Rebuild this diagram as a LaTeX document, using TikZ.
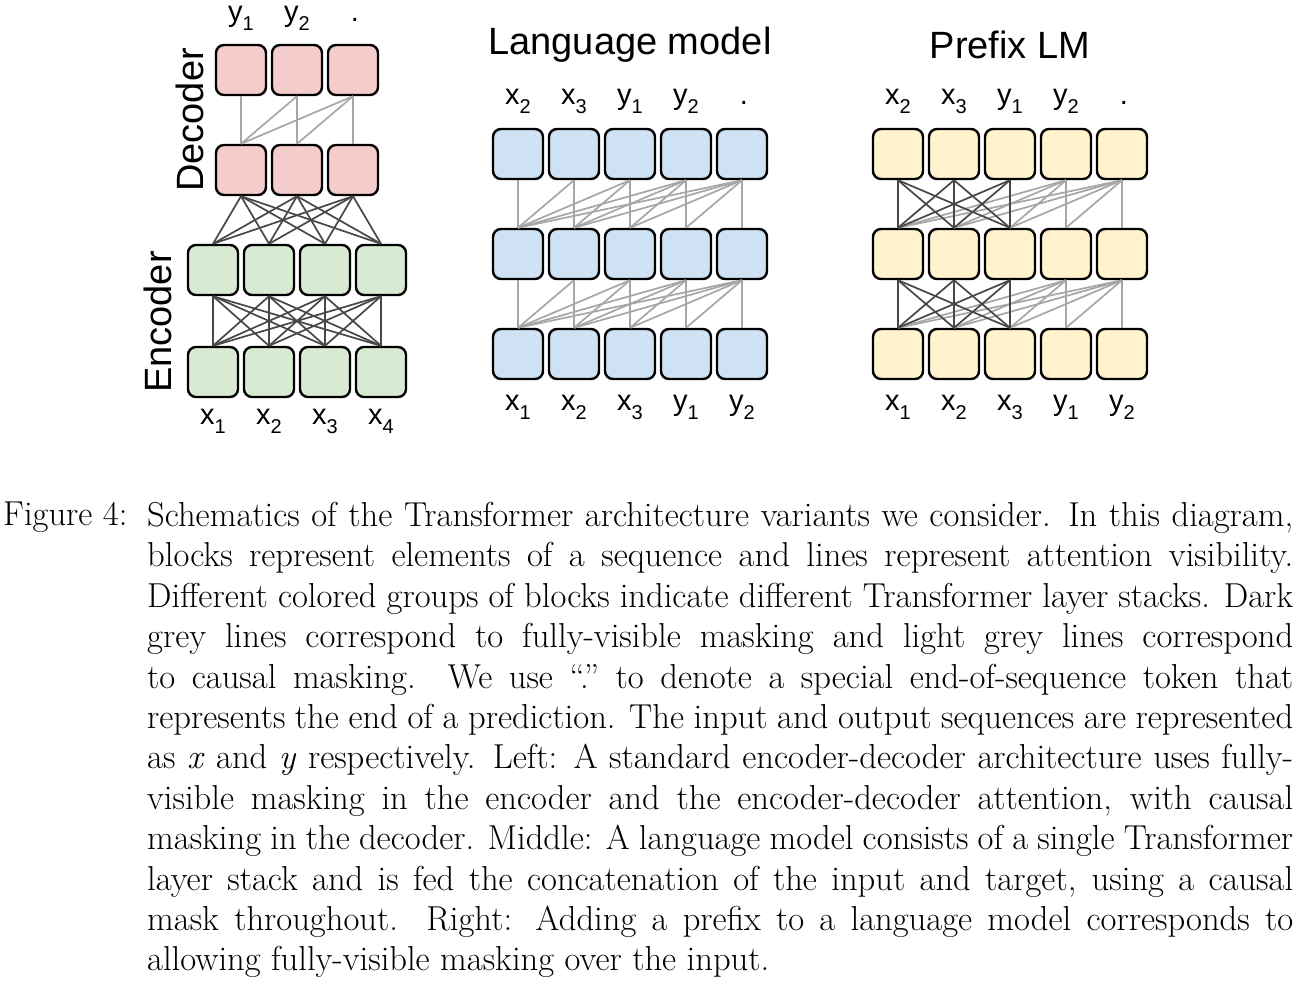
\documentclass[tikz,border=0pt]{standalone}
\usepackage{fontspec}
\newfontfamily\lab{Liberation Sans}
\newcommand{\tk}[2]{#1\raisebox{-9pt}{\fontsize{20}{20}\selectfont #2}}
\begin{document}
\begin{tikzpicture}[x=1pt,y=-1pt,
  blk/.style={draw=black,line width=2.4pt,rounded corners=8pt,minimum width=50pt,minimum height=50pt,inner sep=0pt},
  dk/.style={draw=black!72,line width=1.7pt},
  lt/.style={draw=black!35,line width=1.7pt},
  tok/.style={font=\lab\fontsize{29}{30}\selectfont,inner sep=0pt,anchor=base},
  ttl/.style={font=\lab\fontsize{38}{40}\selectfont,inner sep=0pt},
  captxt/.style={font=\fontsize{34.6}{40.4}\selectfont,inner sep=0pt,anchor=north west}]
\useasboundingbox (0,0) rectangle (1295,982);
\definecolor{cpink}{HTML}{F4CCCC}\definecolor{cgreen}{HTML}{D9EAD3}
\definecolor{cblue}{HTML}{CFE2F3}\definecolor{cyel}{HTML}{FFF2CC}
% Left: encoder-decoder
\foreach \i/\x in {1/213,2/269,3/325,4/381}{
  \node[blk,fill=cgreen] (eb\i) at (\x,372) {};
  \node[blk,fill=cgreen] (et\i) at (\x,270) {};
  \node[tok] at (\x,424) {\tk{x}{\i}};}
\foreach \i/\x in {1/241,2/297,3/353}{
  \node[blk,fill=cpink] (db\i) at (\x,170) {};
  \node[blk,fill=cpink] (dt\i) at (\x,70) {};}
\node[tok] at (241,22) {\tk{y}{1}};\node[tok] at (297,22) {\tk{y}{2}};\node[tok] at (355,22) {.};
\foreach \i in {1,...,4}{\foreach \j in {1,...,4}{\draw[dk] (eb\i.north) -- (et\j.south);}}
\foreach \i in {1,...,4}{\foreach \j in {1,...,3}{\draw[dk] (et\i.north) -- (db\j.south);}}
\foreach \i in {1,...,3}{\foreach \j in {\i,...,3}{\draw[lt] (db\i.north) -- (dt\j.south);}}
\node[ttl,rotate=90] at (190,120) {Decoder};
\node[ttl,rotate=90] at (158,322) {Encoder};
% Middle: LM
\node[ttl] at (630,45) {Language model};
\foreach \i/\x in {1/518,2/574,3/630,4/686,5/742}{
  \node[blk,fill=cblue] (ma\i) at (\x,354) {};
  \node[blk,fill=cblue] (mb\i) at (\x,254) {};
  \node[blk,fill=cblue] (mc\i) at (\x,154) {};}
\foreach \i in {1,...,5}{\foreach \j in {\i,...,5}{
  \draw[lt] (ma\i.north) -- (mb\j.south); \draw[lt] (mb\i.north) -- (mc\j.south);}}
\foreach \x/\t/\s in {518/x/1,574/x/2,630/x/3,686/y/1,742/y/2}{\node[tok] at (\x,410) {\tk{\t}{\s}};}
\foreach \x/\t/\s in {518/x/2,574/x/3,630/y/1,686/y/2}{\node[tok] at (\x,104) {\tk{\t}{\s}};}
\node[tok] at (744,104) {.};
% Right: Prefix LM
\node[ttl] at (1010,45) {Prefix LM};
\foreach \i/\x in {1/898,2/954,3/1010,4/1066,5/1122}{
  \node[blk,fill=cyel] (pa\i) at (\x,354) {};
  \node[blk,fill=cyel] (pb\i) at (\x,254) {};
  \node[blk,fill=cyel] (pc\i) at (\x,154) {};}
\foreach \i in {1,...,5}{\foreach \j in {4,5}{\ifnum\i>\j\else
  \draw[lt] (pa\i.north) -- (pb\j.south); \draw[lt] (pb\i.north) -- (pc\j.south);\fi}}
\foreach \i in {1,2,3}{\foreach \j in {1,2,3}{
  \draw[dk] (pa\i.north) -- (pb\j.south); \draw[dk] (pb\i.north) -- (pc\j.south);}}
\foreach \x/\t/\s in {898/x/1,954/x/2,1010/x/3,1066/y/1,1122/y/2}{\node[tok] at (\x,410) {\tk{\t}{\s}};}
\foreach \x/\t/\s in {898/x/2,954/x/3,1010/y/1,1066/y/2}{\node[tok] at (\x,104) {\tk{\t}{\s}};}
\node[tok] at (1124,104) {.};
% Caption
\node[captxt] (fl) at (3,502) {Figure 4:};
\node[captxt,text width=1146pt,align=justify] (ct) at (147,502) {\hyphenpenalty=10000 Schematics of the Transformer architecture variants we consider. In this diagram,\linebreak blocks represent elements of a sequence and lines represent attention visibility.\linebreak Different colored groups of blocks indicate different Transformer layer stacks. Dark\linebreak grey lines correspond to fully-visible masking and light grey lines correspond\linebreak to causal masking. We use ``.''\ to denote a special end-of-sequence token that\linebreak represents the end of a prediction. The input and output sequences are represented\linebreak as \textit{x} and \textit{y} respectively. Left: A standard encoder-decoder architecture uses fully-\linebreak visible masking in the encoder and the encoder-decoder attention, with causal\linebreak masking in the decoder. Middle: A language model consists of a single Transformer\linebreak layer stack and is fed the concatenation of the input and target, using a causal\linebreak mask throughout. Right: Adding a prefix to a language model corresponds to\linebreak allowing fully-visible masking over the input.};
\end{tikzpicture}
\end{document}
